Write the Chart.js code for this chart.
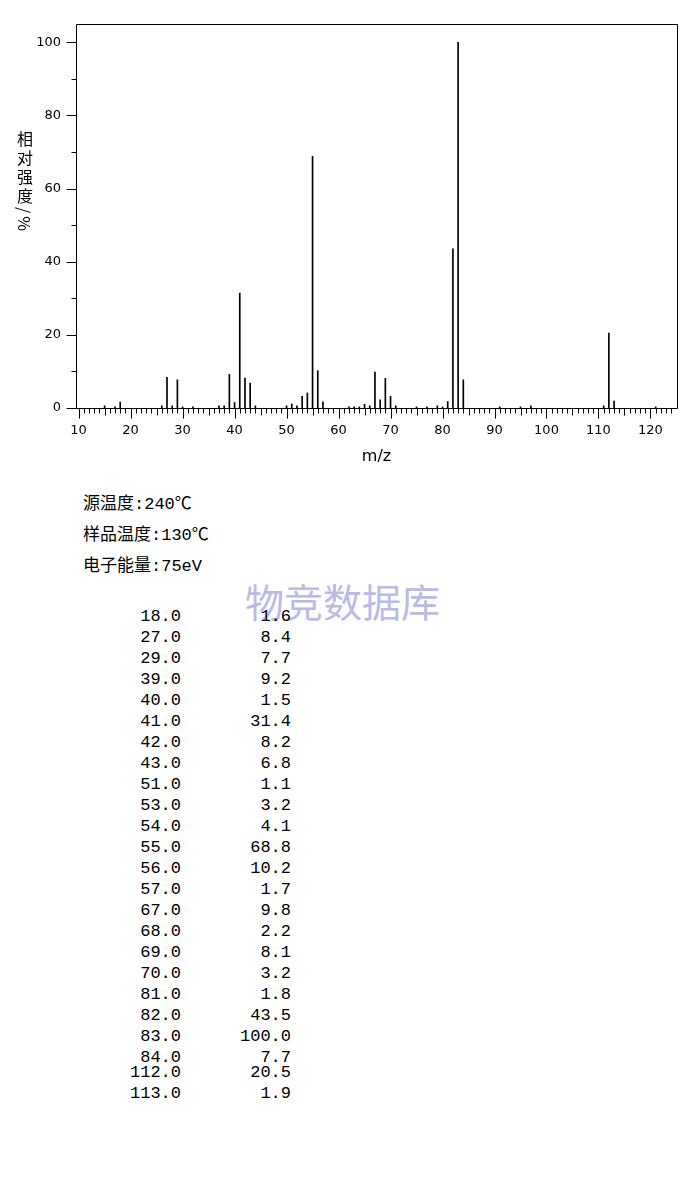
<!DOCTYPE html>
<html>
<head>
<meta charset="utf-8">
<script src="https://cdn.jsdelivr.net/npm/chart.js@4.4.1/dist/chart.umd.min.js"></script>
<style>
html,body{margin:0;padding:0;background:#fff;}
body{width:687px;height:1199px;position:relative;overflow:hidden;}
#chartBox{position:absolute;left:0;top:0;width:687px;height:470px;}
#ytitle{position:absolute;left:16px;top:131px;writing-mode:vertical-rl;font-size:16px;font-family:"Noto Sans CJK SC",sans-serif;letter-spacing:3px;line-height:18px;color:#000;}
.info{position:absolute;left:83px;height:20px;line-height:20px;font-size:17px;font-family:"Liberation Mono","Noto Sans CJK SC",monospace;color:#000;white-space:nowrap;}
#wm{position:absolute;left:245px;top:580px;font-size:39px;line-height:40px;font-family:"Noto Sans CJK SC",sans-serif;color:#babae4;white-space:nowrap;}
.row{position:absolute;left:0;width:300px;height:20px;line-height:20px;font-size:17px;font-family:"Liberation Mono",monospace;color:#000;white-space:pre;}
.row .c1{position:absolute;left:0;width:181px;text-align:right;}
.row .c2{position:absolute;left:0;width:291px;text-align:right;}
</style>
</head>
<body>
<div id="chartBox"><canvas id="c" width="687" height="470"></canvas></div>
<div id="ytitle">相对强度/%</div>
<div id="info"></div>
<div id="wm">物竞数据库</div>
<div id="table"></div>
<script>
// ---- data ----
const tableMz = [18, 27, 29, 39, 40, 41, 42, 43, 51, 53, 54, 55, 56, 57, 67, 68, 69, 70, 81, 82, 83, 84, 112, 113];
const tableIntensity = [1.6, 8.4, 7.7, 9.2, 1.5, 31.4, 8.2, 6.8, 1.1, 3.2, 4.1, 68.8, 10.2, 1.7, 9.8, 2.2, 8.1, 3.2, 1.8, 43.5, 100.0, 7.7, 20.5, 1.9];
const minorMz = [15, 17, 26, 28, 30, 32, 37, 38, 44, 50, 52, 62, 63, 64, 65, 66, 71, 75, 77, 79, 80, 91, 95, 97, 111, 121];
const minorIntensity = [0.6, 0.3, 0.6, 0.6, 0.3, 0.3, 0.6, 0.6, 0.6, 0.6, 0.6, 0.3, 0.3, 0.3, 1.0, 0.6, 0.6, 0.3, 0.3, 0.6, 0.3, 0.3, 0.3, 0.6, 0.6, 0.3];
const xTickLabels = [10, 20, 30, 40, 50, 60, 70, 80, 90, 100, 110, 120];
const yTickLabels = [0, 20, 40, 60, 80, 100];
const infoLines = ["源温度:240℃", "样品温度:130℃", "电子能量:75eV"];

// ---- text blocks ----
const infoEl = document.getElementById('info');
infoLines.forEach((t, i) => {
  const d = document.createElement('div');
  d.className = 'info';
  d.style.top = (495 + i * 31) + 'px';
  d.textContent = t;
  infoEl.appendChild(d);
});
const tableEl = document.getElementById('table');
tableMz.forEach((m, i) => {
  const d = document.createElement('div');
  d.className = 'row';
  let top = 607 + i * 21;
  if (m >= 100) top -= 6;
  d.style.top = top + 'px';
  const a = document.createElement('span'); a.className = 'c1'; a.textContent = m.toFixed(1);
  const b = document.createElement('span'); b.className = 'c2'; b.textContent = tableIntensity[i].toFixed(1);
  d.appendChild(a); d.appendChild(b);
  tableEl.appendChild(d);
});

// ---- chart ----
const points = [];
tableMz.forEach((m, i) => points.push({x: m, y: tableIntensity[i]}));
minorMz.forEach((m, i) => points.push({x: m, y: minorIntensity[i]}));
points.sort((p, q) => p.x - q.x);

Chart.defaults.font.family = 'DejaVu Sans';
Chart.defaults.color = '#000';

const frameTicks = {
  id: 'frameTicks',
  afterDraw(chart) {
    const {ctx, chartArea: a, scales: {x, y}} = chart;
    ctx.save();
    ctx.strokeStyle = '#000';
    ctx.lineWidth = 1;
    ctx.beginPath();
    const L = Math.round(a.left) + 0.5, R = Math.round(a.right) + 0.5;
    const T = Math.round(a.top) + 0.5, B = Math.round(a.bottom) + 0.5;
    ctx.rect(L, T, R - L, B - T);
    x.ticks.forEach(t => {
      const px = Math.round(x.getPixelForValue(t.value)) + 0.5;
      const len = t.value % 10 === 0 ? 10 : (t.value % 5 === 0 ? 7 : 5);
      ctx.moveTo(px, B); ctx.lineTo(px, B + len);
    });
    y.ticks.forEach(t => {
      const py = Math.round(y.getPixelForValue(t.value)) + 0.5;
      const len = t.value % 20 === 0 ? 10 : 5;
      ctx.moveTo(L, py); ctx.lineTo(L - len, py);
    });
    ctx.stroke();
    ctx.restore();
  }
};

new Chart(document.getElementById('c'), {
  type: 'bar',
  data: {
    datasets: [{
      data: points,
      backgroundColor: '#000',
      borderWidth: 0,
      barThickness: 1
    }]
  },
  options: {
    responsive: false,
    animation: false,
    devicePixelRatio: 1,
    layout: {padding: {top: 24, right: 10, left: 0, bottom: 0}},
    plugins: {legend: {display: false}, tooltip: {enabled: false}},
    scales: {
      x: {
        type: 'linear', min: 10, max: 124.6,
        grid: {display: false, drawTicks: false},
        border: {display: false},
        ticks: {
          stepSize: 1, autoSkip: false, maxRotation: 0, includeBounds: false,
          padding: 15, font: {size: 13}, color: '#000',
          callback: v => xTickLabels.includes(v) ? String(v) : ''
        },
        title: {display: true, text: 'm/z', font: {size: 16}, color: '#000', padding: {top: 0, bottom: 4}},
        afterFit: s => { s.height = 62; }
      },
      y: {
        type: 'linear', min: 0, max: 105,
        grid: {display: false, drawTicks: false},
        border: {display: false},
        ticks: {
          stepSize: 10, autoSkip: false, includeBounds: false,
          padding: 15, font: {size: 13}, color: '#000',
          callback: v => yTickLabels.includes(v) ? String(v) : ''
        },
        afterFit: s => { s.width = 76; }
      }
    }
  },
  plugins: [frameTicks]
});
</script>
</body>
</html>
